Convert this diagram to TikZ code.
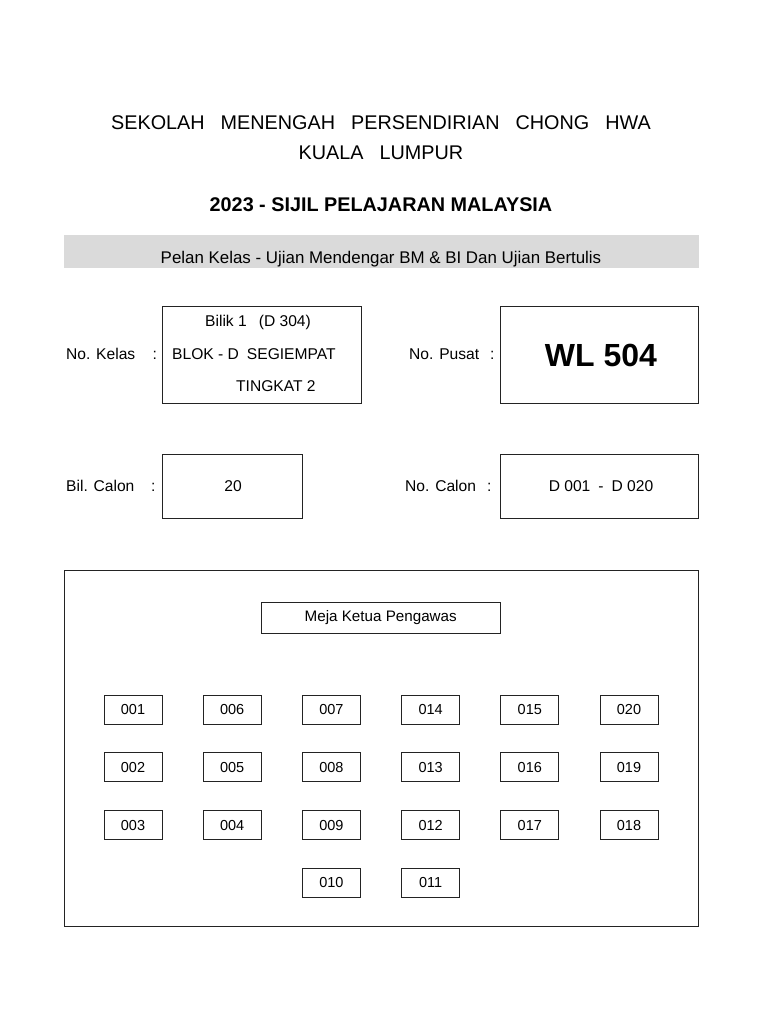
\documentclass[tikz,border=0pt]{standalone}
\usepackage{fontspec}
\setmainfont{Liberation Sans}
\usetikzlibrary{positioning}
\definecolor{plline}{RGB}{35,35,35}
\definecolor{plband}{RGB}{218,218,218}
\newcommand{\fsz}[1]{\fontsize{#1}{#1}\selectfont}
\newcommand{\gapw}{\hspace{16pt}}
\tikzset{
  plbox/.style={draw=plline, line width=0.9pt, inner sep=0pt},
  seat/.style={plbox, minimum width=58pt, minimum height=29pt, font=\fsz{14.5}},
  lbl/.style={anchor=base west, inner sep=0pt, font=\fsz{15.6}},
  txt/.style={anchor=base, inner sep=0pt, font=\fsz{15.6}},
  head/.style={anchor=base, inner sep=0pt, font=\fsz{19.8}}
}
\begin{document}
\begin{tikzpicture}[x=1pt,y=-1pt]
  \fill[white] (0,0) rectangle (768,1024);
  \useasboundingbox (0,0) rectangle (768,1024);

  % heading
  \node[head] (school) at (381,129.5)
    {SEKOLAH\gapw MENENGAH\gapw PERSENDIRIAN\gapw CHONG\gapw HWA};
  \node[head] (city) at (381,160) {KUALA\gapw LUMPUR};
  \node[head, font=\fsz{19.8}\bfseries] (exam) at (381,212)
    {2023 - SIJIL PELAJARAN MALAYSIA};
  \node[fill=plband, inner sep=0pt, minimum width=635pt, minimum height=33pt] (band) at (381,251) {};
  \node[txt, font=\fsz{16.9}] (plan) at (381,263.5)
    {Pelan Kelas - Ujian Mendengar BM \& BI Dan Ujian Bertulis};

  % info boxes
  \node[plbox, minimum width=199pt, minimum height=97pt] (kelasbox) at (261.5,354.5) {};
  \node[plbox, minimum width=198.5pt, minimum height=97pt] (pusatbox) at (599.25,354.5) {};
  \node[plbox, minimum width=140pt, minimum height=64pt] (bilbox) at (232,486) {};
  \node[plbox, minimum width=198.5pt, minimum height=64pt] (calonbox) at (599.25,486) {};

  \node[lbl] (kelas) at (66,359.5) {No. Kelas};
  \node[lbl] (kelasc) at (152.5,359.5) {:};
  \node[lbl] (bilik) at (205,326.5) {Bilik 1\hspace{12pt}(D 304)};
  \node[lbl] (blok) at (172,359.5) {BLOK - D\hspace{8pt}SEGIEMPAT};
  \node[lbl] (tingkat) at (236,391.5) {TINGKAT 2};

  \node[lbl] (pusat) at (409,359.5) {No. Pusat};
  \node[lbl] (pusatc) at (490,359.5) {:};
  \node[txt, font=\fsz{32}\bfseries] (wl) at (601,366.5) {WL 504};

  \node[lbl] (bil) at (66,491.5) {Bil. Calon};
  \node[lbl] (bilc) at (151,491.5) {:};
  \node[txt] (jum) at (233,491.5) {20};

  \node[lbl] (nocalon) at (405,491.5) {No. Calon};
  \node[lbl] (nocalonc) at (487,491.5) {:};
  \node[txt] (julat) at (601,491.5) {D 001\hspace{8pt}-\hspace{8pt}D 020};

  % room plan
  \node[plbox, minimum width=634.5pt, minimum height=356pt] (room) at (381.25,748) {};
  \node[plbox, minimum width=239.5pt, minimum height=31pt, font=\fsz{15.2}] (meja) at (380.75,617.5)
    {Meja Ketua Pengawas};

  \foreach \num/\col/\row in {001/0/0,006/1/0,007/2/0,014/3/0,015/4/0,020/5/0,
                               002/0/1,005/1/1,008/2/1,013/3/1,016/4/1,019/5/1,
                               003/0/2,004/1/2,009/2/2,012/3/2,017/4/2,018/5/2,
                               010/2/3,011/3/3}
    \node[seat] (s\num) at (133+99.2*\col,709.5+57.8*\row) {\num};
\end{tikzpicture}
\end{document}
